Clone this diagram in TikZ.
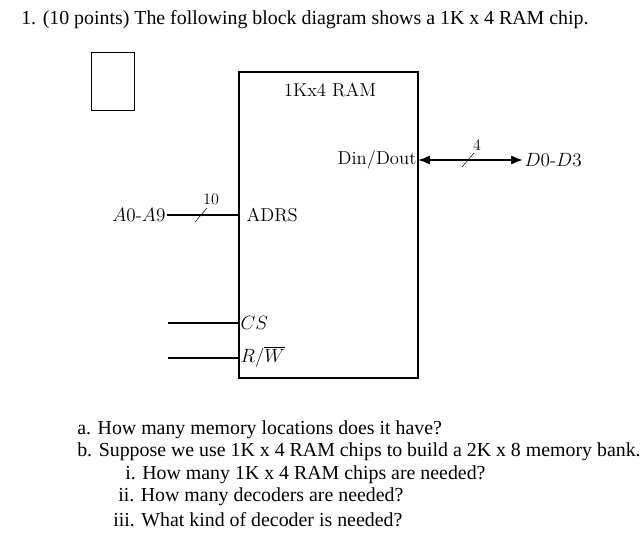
\documentclass[tikz,border=0pt]{standalone}
\usepackage{fontspec}
\newfontfamily\qfont{Liberation Serif}
\usetikzlibrary{arrows.meta}
\begin{document}
\begin{tikzpicture}[x=0.75pt,y=-0.75pt,
  wire/.style={line width=1.5pt},
  bus/.style={wire,{Latex[length=9pt,width=7pt]}-{Latex[length=9pt,width=7pt]}},
  lbl/.style={inner sep=1pt,font=\fontsize{14}{16}\selectfont},
  q/.style={anchor=west,inner sep=0pt,font=\qfont\fontsize{14.9}{17}\selectfont}]

% page size:
\useasboundingbox (0,0) rectangle (644,543);

% question text
\node[q] (title) at (21,20) {1. (10 points) The following block diagram shows a 1K x 4 RAM chip.};
\node[q] (qa) at (77,430) {a. How many memory locations does it have?};
\node[q] (qb) at (77,452) {b. Suppose we use 1K x 4 RAM chips to build a 2K x 8 memory bank.};
\node[q] (qi) at (125,475) {i. How many 1K x 4 RAM chips are needed?};
\node[q] (qii) at (118,497) {ii. How many decoders are needed?};
\node[q] (qiii) at (113,520) {iii. What kind of decoder is needed?};

% answer box
\draw[thin] (91,52) rectangle (134,110);

% RAM chip
\draw[wire] (239,72) rectangle (418,378);
\node[lbl] (name) at (330,90) {1Kx4 RAM};
\node[lbl,anchor=east] (din) at (418,160) {Din/Dout};
\node[lbl,anchor=west] (adrs) at (245,215) {ADRS};
\node[lbl,anchor=west] (cs) at (239,323) {$CS$};
\node[lbl,anchor=west] (rw) at (239,357) {$R/\overline{W}$};

% data bus
\coordinate (dport) at (418,160);
\node[lbl,anchor=west] (data) at (523,160) {$D0$-$D3$};
\draw[bus] (dport) -- (data.west);
\draw[thin] (462,167) -- (474,153);
\node[lbl,font=\fontsize{12}{14}\selectfont] (dw) at (477,145) {4};

% address bus
\node[lbl,anchor=east] (addr) at (167,215) {$A0$-$A9$};
\coordinate (aport) at (239,215);
\draw[wire] (addr.east) -- (aport);
\draw[thin] (195,222) -- (207,208);
\node[lbl,font=\fontsize{12}{14}\selectfont] (aw) at (211,199) {10};

% control lines
\coordinate (csin) at (168,323);
\coordinate (rwin) at (168,358);
\draw[wire] (csin) -- (239,323);
\draw[wire] (rwin) -- (239,358);

\end{tikzpicture}
\end{document}
